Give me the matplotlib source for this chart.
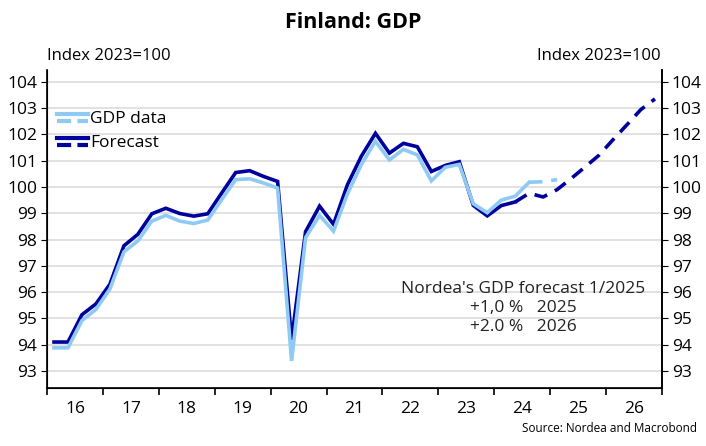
import numpy as np
import matplotlib
matplotlib.use("Agg")
import matplotlib.pyplot as plt
from matplotlib.lines import Line2D
from matplotlib.legend_handler import HandlerBase

# --- data (quarterly, 2016Q1 ...) ---
forecast = [94.10, 94.10, 95.14, 95.55, 96.30, 97.76, 98.20, 98.98,
            99.19, 98.99, 98.89, 98.98, 99.77, 100.55, 100.62, 100.40,
            100.21, 94.18, 98.30, 99.27, 98.58, 100.09, 101.18, 102.04,
            101.29, 101.66, 101.53, 100.59, 100.82, 100.96, 99.30, 98.90,
            99.29, 99.43, 99.76, 99.62, 99.90, 100.32, 100.76, 101.21,
            101.80, 102.37, 102.95, 103.35]
gdp_data = [93.88, 93.88, 94.92, 95.34, 96.12, 97.53, 97.95, 98.70,
            98.92, 98.70, 98.61, 98.74, 99.52, 100.28, 100.31, 100.15,
            99.96, 93.38, 98.07, 98.92, 98.32, 99.74, 100.86, 101.74,
            101.03, 101.43, 101.22, 100.23, 100.75, 100.86, 99.36, 99.02,
            99.50, 99.65, 100.18, 100.20, 100.28]
FC_SOLID_END = 33   # last quarter drawn solid for forecast line
DATA_SOLID_END = 34  # last quarter drawn solid for data line
years = list(range(2016, 2027))
year_labels = [str(y)[2:] for y in years]

DARK = "#00009c"
LIGHT = "#8fcaf5"
FONT = ["Open Sans", "DejaVu Sans"]
plt.rcParams["font.family"] = FONT

q_fc = 2016 + (np.arange(len(forecast)) + 0.5) / 4
q_dt = 2016 + (np.arange(len(gdp_data)) + 0.5) / 4
DASH = (3.7, 2.4)

fig = plt.figure(figsize=(7.06, 4.46), dpi=100)
ax = fig.add_axes([0.0666, 0.130, 0.871, 0.713])

ax.plot(q_fc[:FC_SOLID_END + 1], forecast[:FC_SOLID_END + 1], color=DARK, lw=2.6,
        solid_joinstyle="miter", zorder=3)
ax.plot(q_fc[FC_SOLID_END:], forecast[FC_SOLID_END:], color=DARK, lw=2.6,
        ls=(0, DASH), zorder=3)
ax.plot(q_dt[:DATA_SOLID_END + 1], gdp_data[:DATA_SOLID_END + 1], color=LIGHT, lw=2.6,
        solid_joinstyle="miter", zorder=4)
ax.plot(q_dt[DATA_SOLID_END:], gdp_data[DATA_SOLID_END:], color=LIGHT, lw=2.6,
        ls=(0, DASH), zorder=4)

ax.set_xlim(2016, 2027)
ax.set_ylim(92.35, 104.45)
ax.set_yticks(range(93, 105))
ax.grid(axis="y", color="#dcdcdc", lw=1.2, zorder=0)
ax.set_axisbelow(True)

ax.set_xticks(range(2016, 2028))
ax.set_xticklabels([])
ax.set_xticks([y + 0.5 for y in years], minor=True)
ax.set_xticklabels(year_labels, minor=True)
ax.tick_params(axis="x", which="major", direction="out", length=5, width=1.2)
ax.tick_params(axis="x", which="minor", length=0, pad=9, labelsize=12.5)
ax.tick_params(axis="y", direction="out", length=4, width=0.8, pad=3, labelsize=12.5)
ax.spines["top"].set_visible(False)
for s in ["left", "right", "bottom"]:
    ax.spines[s].set_linewidth(1.2)

ax2 = ax.twinx()
ax2.set_ylim(ax.get_ylim())
ax2.set_yticks(range(93, 105))
ax2.tick_params(axis="y", direction="out", length=4, width=0.8, pad=3, labelsize=12.5)
ax2.spines["top"].set_visible(False)
ax2.spines["right"].set_linewidth(1.2)


class TwoLineHandler(HandlerBase):
    # solid line on top, dashed line under it
    def create_artists(self, legend, orig_handle, xdescent, ydescent, width, height,
                       fontsize, trans):
        c = orig_handle.get_color()
        x0, x1 = -xdescent, -xdescent + width
        yc = -ydescent + height / 2
        top = Line2D([x0, x1], [yc + 2.2, yc + 2.2], color=c, lw=3.0, transform=trans)
        bot = Line2D([x0, x1], [yc - 2.8, yc - 2.8], color=c, lw=3.0,
                     ls=(0, (3.4, 1.5)), transform=trans)
        return [top, bot]


h_data = Line2D([], [], color=LIGHT)
h_fc = Line2D([], [], color=DARK)
leg = ax.legend([h_data, h_fc], ["GDP data", "Forecast"],
                handler_map={Line2D: TwoLineHandler()},
                loc="upper left", bbox_to_anchor=(0.0, 0.905), frameon=False,
                fontsize=12.5, handlelength=1.75, handletextpad=0.15,
                labelspacing=0.45, borderaxespad=0.2)

ax.text(0.775, 0.335, "Nordea's GDP forecast 1/2025\n+1,0 %   2025\n+2.0 %   2026",
        transform=ax.transAxes, ha="center", va="top", fontsize=12.5,
        linespacing=1.25, color="#222222")

fig.text(0.5, 0.95, "Finland: GDP", ha="center", va="center", fontsize=15.5,
         fontweight="bold")
fig.text(0.0666, 0.875, "Index 2023=100", ha="left", va="center", fontsize=12)
fig.text(0.936, 0.875, "Index 2023=100", ha="right", va="center", fontsize=12)
fig.text(0.987, 0.04, "Source: Nordea and Macrobond", ha="right", va="center",
         fontsize=8.5)

fig.savefig("out.png", dpi=100)
